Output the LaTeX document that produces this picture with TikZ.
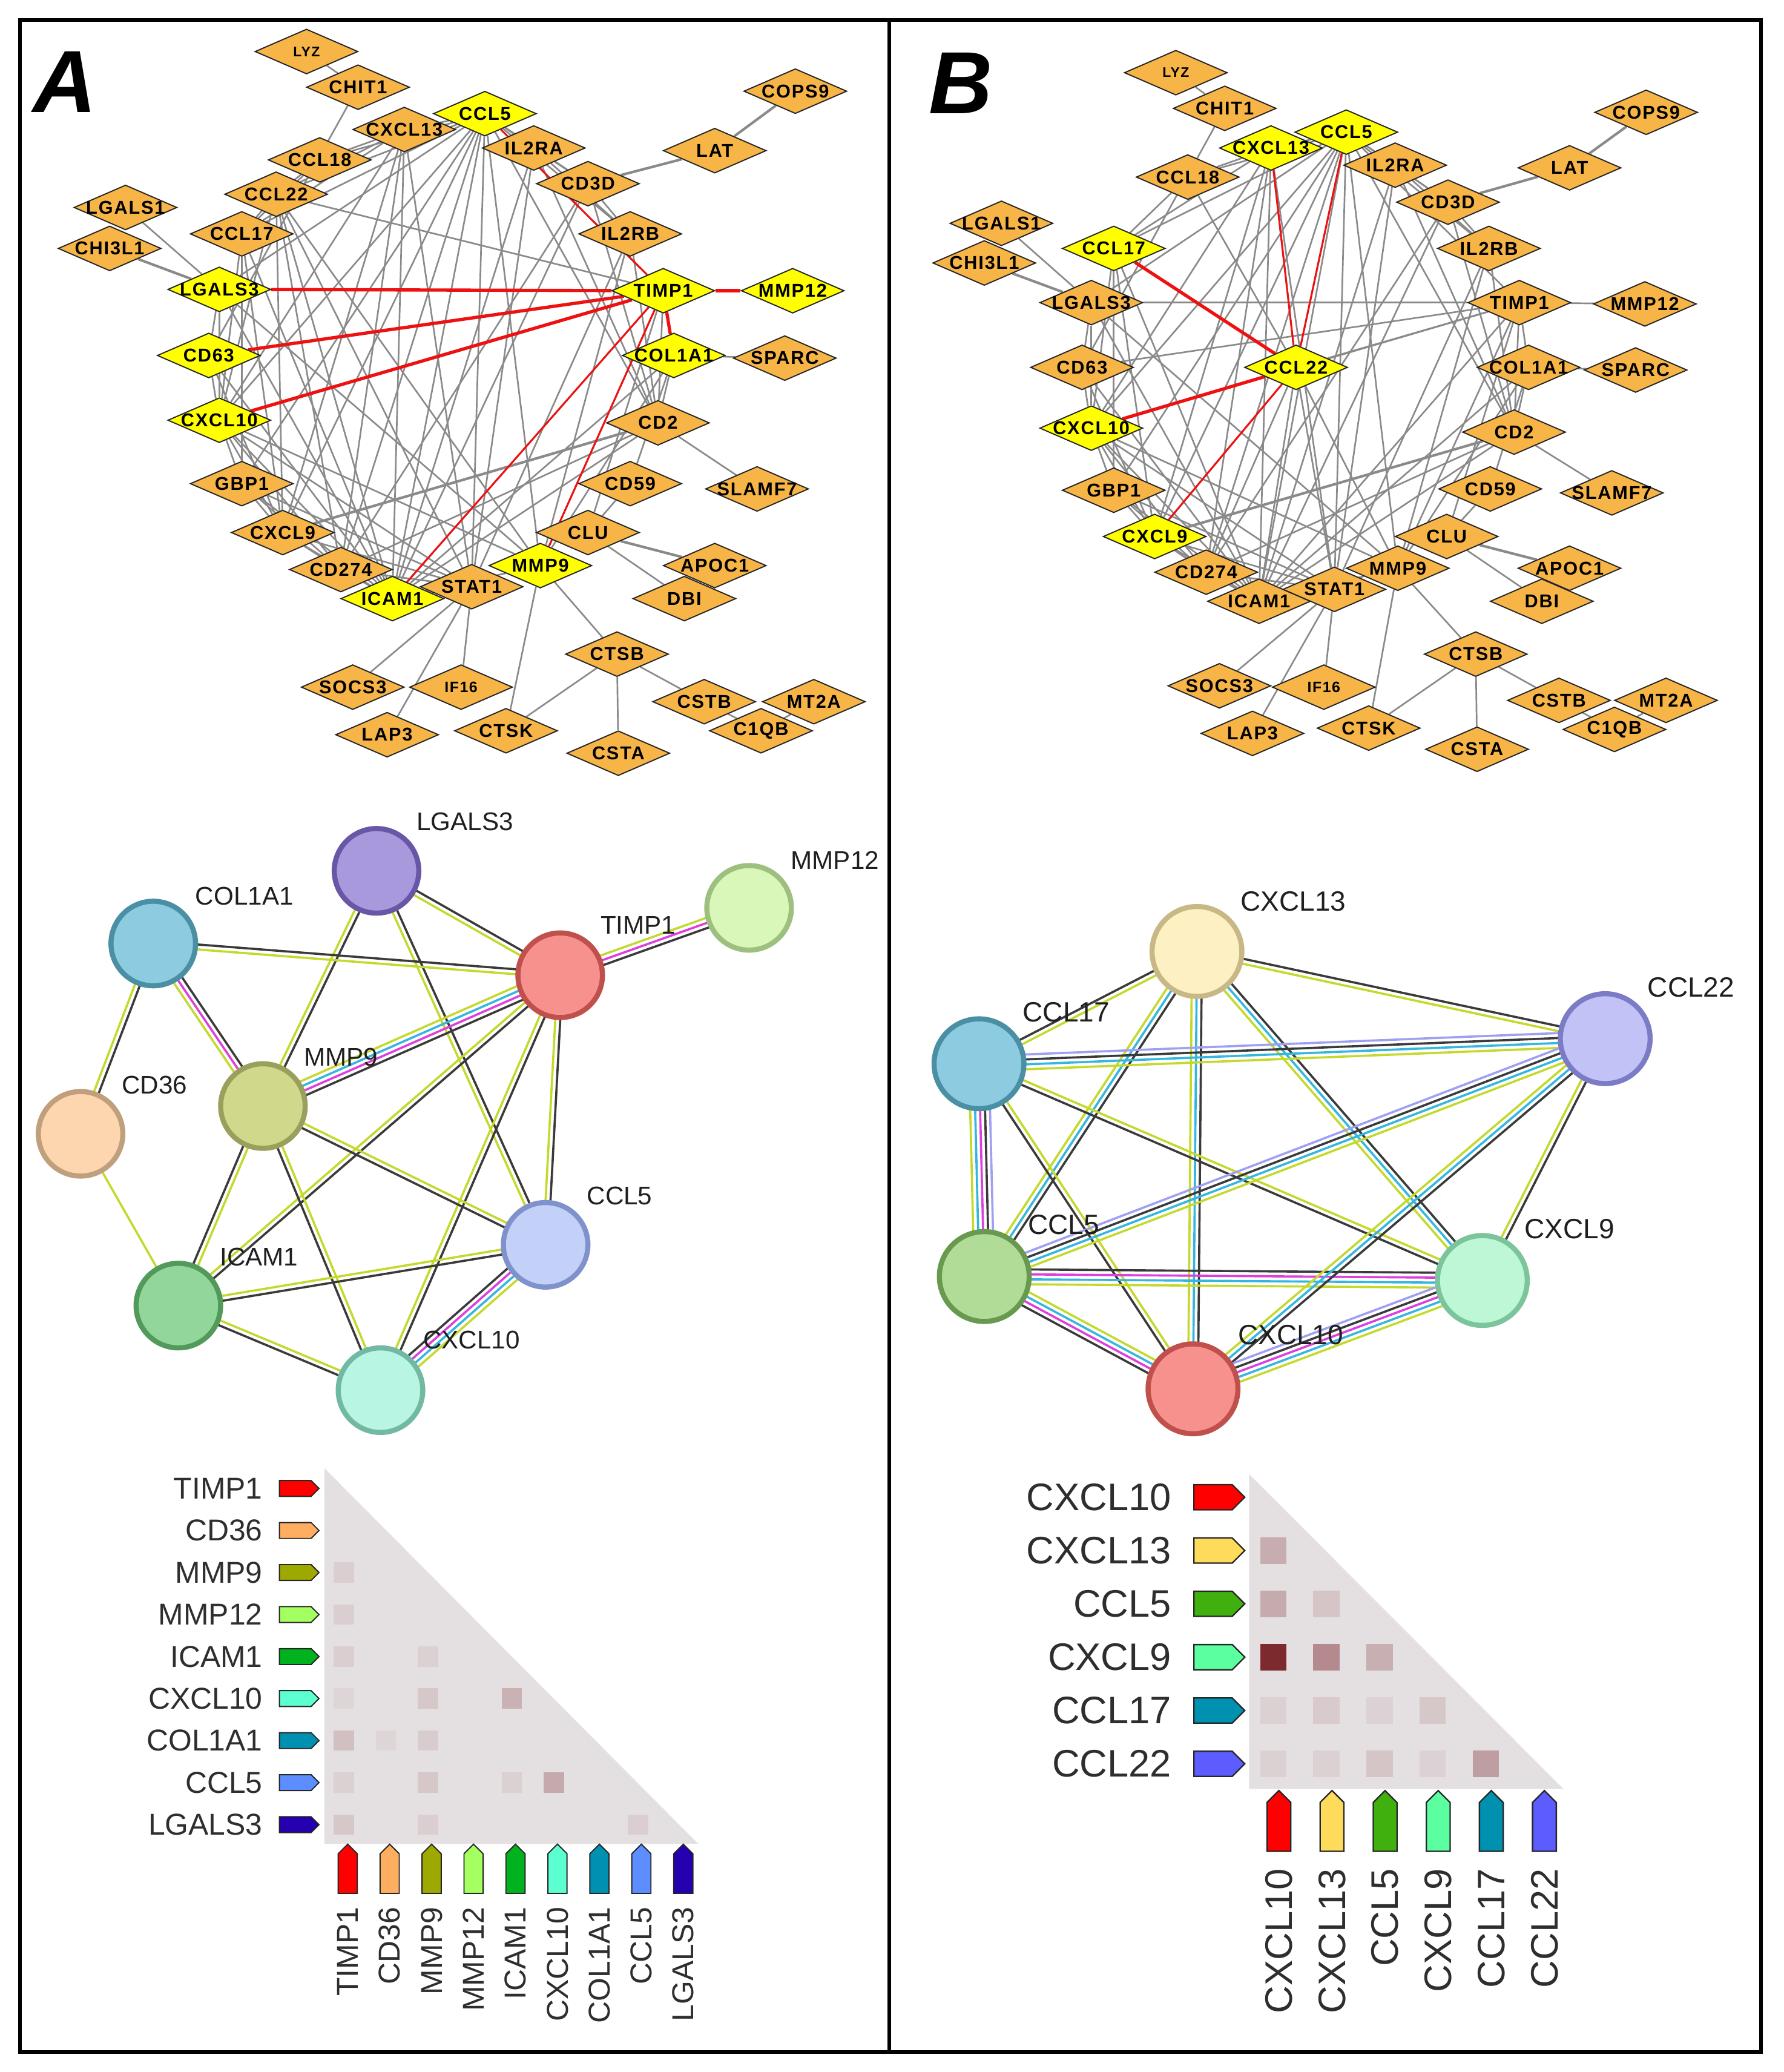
\documentclass[tikz,border=0pt]{standalone}
\usepackage{fontspec}
\setmainfont{Liberation Sans}
\newfontfamily\genefont[LetterSpace=6]{Liberation Sans}
\usetikzlibrary{shapes.geometric,shapes.symbols,calc,backgrounds}
\definecolor{geneorange}{HTML}{F7B548}
\definecolor{hubyellow}{HTML}{FFFF00}
\definecolor{genegray}{HTML}{8A8A8A}
\definecolor{hubred}{HTML}{EE1111}
\definecolor{strgreen}{HTML}{C4D92C}
\definecolor{strblack}{HTML}{3A3A3A}
\definecolor{strmag}{HTML}{DD3FDD}
\definecolor{strcyan}{HTML}{35B6DE}
\definecolor{strlav}{HTML}{A0A0F2}
\definecolor{legtext}{HTML}{2E2E2E}
\definecolor{matgray}{HTML}{E4E0E2}
\definecolor{sqdark}{HTML}{7D2A2F}
\definecolor{tagred}{HTML}{FF0000}
\definecolor{tagorange}{HTML}{FFAD60}
\definecolor{tagolive}{HTML}{9DA800}
\definecolor{taglime}{HTML}{A4FF60}
\definecolor{taggreen}{HTML}{00B31E}
\definecolor{tagaqua}{HTML}{5CFFCF}
\definecolor{tagteal}{HTML}{0090B0}
\definecolor{tagblue}{HTML}{5C8EFF}
\definecolor{tagindigo}{HTML}{2400B0}
\definecolor{tagyellow}{HTML}{FFDB5C}
\definecolor{tagleaf}{HTML}{3FB00E}
\definecolor{tagmint}{HTML}{5CFFA0}
\definecolor{tagviolet}{HTML}{5C5CFF}
\tikzstyle{gene}=[shape=diamond,draw=black!85,line width=0.5pt,fill=geneorange,minimum width=1.56cm,minimum height=0.68cm,inner sep=0pt,font=\genefont\fontsize{8}{8}\selectfont\bfseries]
\tikzstyle{smallgene}=[gene,font=\genefont\fontsize{6}{6}\selectfont\bfseries]
\tikzstyle{hub}=[gene,fill=hubyellow]
\tikzstyle{lightedge}=[genegray,line width=0.7pt]
\tikzstyle{heavyedge}=[genegray,line width=1.1pt]
\tikzstyle{hubedge}=[hubred,line width=1.4pt]
\tikzstyle{thinhub}=[hubred,line width=0.8pt]
\tikzstyle{strnode}=[circle,line width=2.2pt,minimum size=1.28cm,inner sep=0pt]
\tikzstyle{strlabel}=[font=\fontsize{11}{11}\selectfont,text=black!88,inner sep=0pt]
\tikzstyle{strline}=[line width=0.95pt]
\tikzstyle{rowlabA}=[anchor=east,font=\fontsize{13}{13}\selectfont,text=legtext,inner sep=0pt]
\tikzstyle{collabA}=[rowlabA,rotate=90]
\tikzstyle{rowtagA}=[signal,signal to=east,draw=black!85,line width=0.5pt,minimum width=0.6cm,minimum height=0.24cm,inner sep=0pt]
\tikzstyle{coltagA}=[signal,signal to=north,draw=black!85,line width=0.5pt,minimum width=0.29cm,minimum height=0.6cm,inner sep=0pt]
\tikzstyle{rowlabB}=[anchor=east,font=\fontsize{16.5}{16.5}\selectfont,text=legtext,inner sep=0pt]
\tikzstyle{collabB}=[rowlabB,rotate=90]
\tikzstyle{rowtagB}=[signal,signal to=east,draw=black!85,line width=0.6pt,minimum width=0.77cm,minimum height=0.38cm,inner sep=0pt]
\tikzstyle{coltagB}=[signal,signal to=north,draw=black!85,line width=0.6pt,minimum width=0.36cm,minimum height=0.74cm,inner sep=0pt]
\newcommand{\gn}[1]{\makebox[0pt]{#1}}
% gene pairs of the interaction network, shared by both panels
\newcommand{\geneedges}{LYZ/CHIT1,CHIT1/CD63,LGALS1/LGALS3,LGALS3/CD63,COL1A1/SPARC,TIMP1/MMP12,%
CD2/SLAMF7,CLU/DBI,CLU/CD59,MMP9/CTSB,MMP9/CTSK,CTSB/CTSK,CTSB/CSTA,CTSB/CSTB,CSTB/C1QB,MT2A/C1QB,%
STAT1/SOCS3,STAT1/IF16,STAT1/LAP3,%
CXCL13/CCL18,CXCL13/CCL22,CXCL13/CCL17,CXCL13/CCL5,CXCL13/CXCL10,CXCL13/CXCL9,CXCL13/ICAM1,CXCL13/CD274,CXCL13/STAT1,%
CCL5/CCL18,CCL5/CCL22,CCL5/CCL17,CCL5/CXCL10,CCL5/CXCL9,CCL5/GBP1,CCL5/CD274,CCL5/ICAM1,CCL5/STAT1,CCL5/MMP9,%
CCL5/IL2RA,CCL5/CD3D,CCL5/IL2RB,CCL5/CD2,CCL5/LGALS3,CCL5/TIMP1,%
CCL18/CCL22,CCL18/CCL17,CCL22/CCL17,CCL22/CXCL10,CCL22/CXCL9,CCL22/CD274,CCL22/ICAM1,CCL22/STAT1,CCL22/TIMP1,CCL22/MMP9,%
CCL17/CXCL10,CCL17/CXCL9,CCL17/ICAM1,CCL17/GBP1,%
IL2RA/CD3D,IL2RA/IL2RB,IL2RA/CD2,IL2RA/STAT1,IL2RA/ICAM1,CD3D/IL2RB,CD3D/CD2,CD3D/ICAM1,CD3D/CD274,%
IL2RB/CD2,IL2RB/STAT1,IL2RB/MMP9,CD2/ICAM1,CD2/CD274,%
TIMP1/CLU,TIMP1/CD2,TIMP1/LGALS3,TIMP1/CD63,TIMP1/CXCL10,TIMP1/ICAM1,TIMP1/MMP9,TIMP1/COL1A1,%
COL1A1/MMP9,COL1A1/CD2,COL1A1/CD59,COL1A1/ICAM1,%
CXCL10/GBP1,CXCL10/CXCL9,CXCL10/CD274,CXCL10/ICAM1,CXCL10/STAT1,CXCL10/MMP9,CXCL10/CD63,%
GBP1/CXCL9,GBP1/STAT1,GBP1/CD274,GBP1/ICAM1,CXCL9/CD274,CXCL9/ICAM1,CXCL9/STAT1,%
CD274/STAT1,CD274/ICAM1,ICAM1/STAT1,ICAM1/MMP9,LGALS3/MMP9,LGALS3/ICAM1,CD63/CXCL9,CD63/ICAM1,LGALS3/CXCL10}
\newcommand{\heavyedges}{COPS9/LAT,LAT/CD3D,CHI3L1/LGALS3,CLU/APOC1,CD2/CXCL9}
% parallel evidence lines between two STRING nodes
\newcommand{\sedge}[3]{%
  \foreach \ec/\eo in {#3}{%
    \pgfmathsetmacro\off{\eo*0.075}%
    \draw[strline,\ec] ($(#1)!\off cm!90:(#2)$) -- ($(#2)!\off cm!-90:(#1)$);}}

\begin{document}
\begin{tikzpicture}[x=0.02cm,y=-0.02cm]
\useasboundingbox (0,0) rectangle (1350,1568);

%frame
\draw[line width=1.5pt] (15,15) rectangle (1333,1553);
\draw[line width=1.5pt] (673,15) -- (673,1553);
\node[font=\fontsize{38}{38}\selectfont\bfseries\itshape] (letA) at (49,62) {A};
\node[font=\fontsize{38}{38}\selectfont\bfseries\itshape] (letB) at (727,63) {B};

%network A
\node[smallgene] (aLYZ) at (232,39) {\gn{LYZ}};
\node[gene] (aCHIT1) at (271,66) {\gn{CHIT1}};
\node[gene] (aCCL18) at (242,121) {\gn{CCL18}};
\node[gene] (aCXCL13) at (306,98) {\gn{CXCL13}};
\node[hub] (aCCL5) at (367,86) {\gn{CCL5}};
\node[gene] (aIL2RA) at (404,112) {\gn{IL2RA}};
\node[gene] (aCD3D) at (445,139) {\gn{CD3D}};
\node[gene] (aLAT) at (541,114) {\gn{LAT}};
\node[gene] (aCOPS9) at (602,69) {\gn{COPS9}};
\node[gene] (aCCL22) at (209,147) {\gn{CCL22}};
\node[gene] (aLGALS1) at (95,157) {\gn{LGALS1}};
\node[gene] (aCHI3L1) at (83,188) {\gn{CHI3L1}};
\node[gene] (aCCL17) at (183,177) {\gn{CCL17}};
\node[gene] (aIL2RB) at (477,177) {\gn{IL2RB}};
\node[hub] (aLGALS3) at (166,219) {\gn{LGALS3}};
\node[hub] (aTIMP1) at (502,220) {\gn{TIMP1}};
\node[hub] (aMMP12) at (600,220) {\gn{MMP12}};
\node[hub] (aCD63) at (158,269) {\gn{CD63}};
\node[hub] (aCOL1A1) at (510,269) {\gn{COL1A1}};
\node[gene] (aSPARC) at (594,271) {\gn{SPARC}};
\node[hub] (aCXCL10) at (166,318) {\gn{CXCL10}};
\node[gene] (aCD2) at (498,320) {\gn{CD2}};
\node[gene] (aGBP1) at (183,366) {\gn{GBP1}};
\node[gene] (aCD59) at (477,366) {\gn{CD59}};
\node[gene] (aSLAMF7) at (573,370) {\gn{SLAMF7}};
\node[gene] (aCXCL9) at (214,403) {\gn{CXCL9}};
\node[gene] (aCLU) at (445,403) {\gn{CLU}};
\node[gene] (aCD274) at (258,431) {\gn{CD274}};
\node[hub] (aICAM1) at (297,453) {\gn{ICAM1}};
\node[gene] (aSTAT1) at (357,444) {\gn{STAT1}};
\node[hub] (aMMP9) at (409,428) {\gn{MMP9}};
\node[gene] (aAPOC1) at (541,428) {\gn{APOC1}};
\node[gene] (aDBI) at (518,453) {\gn{DBI}};
\node[gene] (aCTSB) at (467,495) {\gn{CTSB}};
\node[gene] (aSOCS3) at (267,520) {\gn{SOCS3}};
\node[gene,font=\genefont\fontsize{6.5}{6.5}\selectfont\bfseries] (aIF16) at (349,520) {\gn{IF16}};
\node[gene] (aCSTB) at (533,531) {\gn{CSTB}};
\node[gene] (aMT2A) at (616,531) {\gn{MT2A}};
\node[gene] (aC1QB) at (576,553) {\gn{C1QB}};
\node[gene] (aLAP3) at (293,556) {\gn{LAP3}};
\node[gene] (aCTSK) at (383,553) {\gn{CTSK}};
\node[gene] (aCSTA) at (468,570) {\gn{CSTA}};

%network B
\node[smallgene] (bLYZ) at (890,55) {\gn{LYZ}};
\node[gene] (bCHIT1) at (927,82) {\gn{CHIT1}};
\node[gene] (bCCL18) at (899,134) {\gn{CCL18}};
\node[hub] (bCXCL13) at (962,112) {\gn{CXCL13}};
\node[hub] (bCCL5) at (1019,100) {\gn{CCL5}};
\node[gene] (bIL2RA) at (1056,125) {\gn{IL2RA}};
\node[gene] (bCD3D) at (1096,153) {\gn{CD3D}};
\node[gene] (bLAT) at (1188,127) {\gn{LAT}};
\node[gene] (bCOPS9) at (1246,85) {\gn{COPS9}};
\node[gene] (bLGALS1) at (758,169) {\gn{LGALS1}};
\node[gene] (bCHI3L1) at (745,199) {\gn{CHI3L1}};
\node[hub] (bCCL17) at (843,188) {\gn{CCL17}};
\node[gene] (bIL2RB) at (1127,188) {\gn{IL2RB}};
\node[gene] (bLGALS3) at (826,229) {\gn{LGALS3}};
\node[gene] (bTIMP1) at (1150,229) {\gn{TIMP1}};
\node[gene] (bMMP12) at (1245,230) {\gn{MMP12}};
\node[gene] (bCD63) at (819,278) {\gn{CD63}};
\node[hub] (bCCL22) at (981,278) {\gn{CCL22}};
\node[gene] (bCOL1A1) at (1157,278) {\gn{COL1A1}};
\node[gene] (bSPARC) at (1238,280) {\gn{SPARC}};
\node[hub] (bCXCL10) at (826,324) {\gn{CXCL10}};
\node[gene] (bCD2) at (1146,327) {\gn{CD2}};
\node[gene] (bGBP1) at (843,371) {\gn{GBP1}};
\node[gene] (bCD59) at (1128,370) {\gn{CD59}};
\node[gene] (bSLAMF7) at (1220,373) {\gn{SLAMF7}};
\node[hub] (bCXCL9) at (874,406) {\gn{CXCL9}};
\node[gene] (bCLU) at (1095,406) {\gn{CLU}};
\node[gene] (bCD274) at (913,433) {\gn{CD274}};
\node[gene] (bICAM1) at (953,455) {\gn{ICAM1}};
\node[gene] (bSTAT1) at (1010,446) {\gn{STAT1}};
\node[gene] (bMMP9) at (1058,430) {\gn{MMP9}};
\node[gene] (bAPOC1) at (1188,430) {\gn{APOC1}};
\node[gene] (bDBI) at (1167,455) {\gn{DBI}};
\node[gene] (bCTSB) at (1117,495) {\gn{CTSB}};
\node[gene] (bSOCS3) at (923,519) {\gn{SOCS3}};
\node[gene,font=\genefont\fontsize{6.5}{6.5}\selectfont\bfseries] (bIF16) at (1002,520) {\gn{IF16}};
\node[gene] (bCSTB) at (1180,530) {\gn{CSTB}};
\node[gene] (bMT2A) at (1261,530) {\gn{MT2A}};
\node[gene] (bC1QB) at (1222,552) {\gn{C1QB}};
\node[gene] (bLAP3) at (948,555) {\gn{LAP3}};
\node[gene] (bCTSK) at (1036,551) {\gn{CTSK}};
\node[gene] (bCSTA) at (1118,567) {\gn{CSTA}};

\begin{scope}[on background layer]
\foreach \u/\v in \geneedges {\path (a\u) edge[lightedge] (a\v) (b\u) edge[lightedge] (b\v);}
\foreach \u/\v in \heavyedges {\path (a\u) edge[heavyedge] (a\v) (b\u) edge[heavyedge] (b\v);}
\path
(aTIMP1) edge[hubedge] (aLGALS3)
(aTIMP1) edge[hubedge] (aCD63)
(aTIMP1) edge[hubedge] (aCXCL10)
(aTIMP1) edge[hubedge] (aMMP12)
(aTIMP1) edge[hubedge] (aCOL1A1)
(aTIMP1) edge[thinhub] (aICAM1)
(aTIMP1) edge[thinhub] (aMMP9)
(aTIMP1) edge[thinhub] (aCCL5)
(bCCL22) edge[hubedge] (bCCL17)
(bCCL22) edge[hubedge] (bCXCL10)
(bCCL22) edge[thinhub] (bCXCL13)
(bCCL22) edge[thinhub] (bCCL5)
(bCCL22) edge[thinhub] (bCXCL9);
\end{scope}

%STRING A
\node[strnode,fill={rgb,255:red,168;green,152;blue,220},draw={rgb,255:red,104;green,86;blue,166}] (saLGALS3) at (285,659) {};
\node[strnode,fill={rgb,255:red,216;green,247;blue,184},draw={rgb,255:red,157;green,192;blue,126}] (saMMP12) at (567,687) {};
\node[strnode,fill={rgb,255:red,140;green,203;blue,224},draw={rgb,255:red,75;green,143;blue,165}] (saCOL1A1) at (116,714) {};
\node[strnode,fill={rgb,255:red,246;green,145;blue,141},draw={rgb,255:red,192;green,80;blue,76}] (saTIMP1) at (424,738) {};
\node[strnode,fill={rgb,255:red,253;green,214;blue,176},draw={rgb,255:red,192;green,160;blue,124}] (saCD36) at (61,858) {};
\node[strnode,fill={rgb,255:red,208;green,216;blue,140},draw={rgb,255:red,154;green,160;blue,92}] (saMMP9) at (199,837) {};
\node[strnode,fill={rgb,255:red,195;green,208;blue,248},draw={rgb,255:red,127;green,146;blue,204}] (saCCL5) at (413,942) {};
\node[strnode,fill={rgb,255:red,146;green,214;blue,155},draw={rgb,255:red,82;green,154;blue,90}] (saICAM1) at (135,988) {};
\node[strnode,fill={rgb,255:red,184;green,245;blue,226},draw={rgb,255:red,114;green,185;blue,164}] (saCXCL10) at (288,1052) {};
\node[strlabel] (laLGALS3) at (352,622) {LGALS3};
\node[strlabel] (laMMP12) at (632,651) {MMP12};
\node[strlabel] (laCOL1A1) at (185,678) {COL1A1};
\node[strlabel] (laTIMP1) at (483,700) {TIMP1};
\node[strlabel] (laCD36) at (117,821) {CD36};
\node[strlabel] (laMMP9) at (258,800) {MMP9};
\node[strlabel] (laCCL5) at (469,905) {CCL5};
\node[strlabel] (laICAM1) at (196,951) {ICAM1};
\node[strlabel] (laCXCL10) at (357,1014) {CXCL10};
\begin{scope}[on background layer]
\sedge{saLGALS3}{saTIMP1}{strgreen/-0.5,strblack/0.5}
\sedge{saLGALS3}{saMMP9}{strgreen/-0.5,strblack/0.5}
\sedge{saLGALS3}{saCCL5}{strgreen/-0.5,strblack/0.5}
\sedge{saCOL1A1}{saTIMP1}{strgreen/-0.5,strblack/0.5}
\sedge{saCOL1A1}{saMMP9}{strgreen/-1,strmag/0,strblack/1}
\sedge{saCOL1A1}{saCD36}{strgreen/-0.5,strblack/0.5}
\sedge{saTIMP1}{saMMP12}{strblack/-1,strmag/0,strgreen/1}
\sedge{saTIMP1}{saMMP9}{strgreen/-1.5,strcyan/-0.5,strmag/0.5,strblack/1.5}
\sedge{saTIMP1}{saICAM1}{strgreen/-0.5,strblack/0.5}
\sedge{saTIMP1}{saCXCL10}{strgreen/-0.5,strblack/0.5}
\sedge{saTIMP1}{saCCL5}{strgreen/-0.5,strblack/0.5}
\sedge{saMMP9}{saCCL5}{strblack/-0.5,strgreen/0.5}
\sedge{saMMP9}{saICAM1}{strblack/-0.5,strgreen/0.5}
\sedge{saMMP9}{saCXCL10}{strblack/-0.5,strgreen/0.5}
\sedge{saCD36}{saICAM1}{strgreen/0}
\sedge{saICAM1}{saCCL5}{strblack/-0.5,strgreen/0.5}
\sedge{saICAM1}{saCXCL10}{strblack/-0.5,strgreen/0.5}
\sedge{saCCL5}{saCXCL10}{strblack/-1.5,strmag/-0.5,strcyan/0.5,strgreen/1.5}
\end{scope}

%STRING B
\node[strnode,minimum size=1.36cm,fill={rgb,255:red,253;green,241;blue,196},draw={rgb,255:red,200;green,184;blue,134}] (sbCXCL13) at (906,720) {};
\node[strnode,minimum size=1.36cm,fill={rgb,255:red,194;green,194;blue,247},draw={rgb,255:red,124;green,124;blue,198}] (sbCCL22) at (1215,786) {};
\node[strnode,minimum size=1.36cm,fill={rgb,255:red,140;green,203;blue,224},draw={rgb,255:red,75;green,143;blue,165}] (sbCCL17) at (741,805) {};
\node[strnode,minimum size=1.36cm,fill={rgb,255:red,176;green,220;blue,151},draw={rgb,255:red,105;green,153;blue,78}] (sbCCL5) at (745,966) {};
\node[strnode,minimum size=1.36cm,fill={rgb,255:red,190;green,247;blue,214},draw={rgb,255:red,124;green,196;blue,156}] (sbCXCL9) at (1122,969) {};
\node[strnode,minimum size=1.36cm,fill={rgb,255:red,246;green,145;blue,141},draw={rgb,255:red,192;green,80;blue,76}] (sbCXCL10) at (903,1051) {};
\node[strlabel,font=\fontsize{12}{12}\selectfont] (lbCXCL13) at (979,682) {CXCL13};
\node[strlabel,font=\fontsize{12}{12}\selectfont] (lbCCL22) at (1280,747) {CCL22};
\node[strlabel,font=\fontsize{12}{12}\selectfont] (lbCCL17) at (807,766) {CCL17};
\node[strlabel,font=\fontsize{12}{12}\selectfont] (lbCCL5) at (805,927) {CCL5};
\node[strlabel,font=\fontsize{12}{12}\selectfont] (lbCXCL9) at (1188,930) {CXCL9};
\node[strlabel,font=\fontsize{12}{12}\selectfont] (lbCXCL10) at (977,1010) {CXCL10};
\begin{scope}[on background layer]
\sedge{sbCXCL13}{sbCCL22}{strgreen/-0.5,strblack/0.5}
\sedge{sbCXCL13}{sbCCL17}{strblack/-0.5,strgreen/0.5}
\sedge{sbCXCL13}{sbCCL5}{strgreen/-1,strcyan/0,strblack/1}
\sedge{sbCXCL13}{sbCXCL10}{strgreen/-1,strcyan/0,strblack/1}
\sedge{sbCXCL13}{sbCXCL9}{strgreen/-1,strcyan/0,strblack/1}
\sedge{sbCCL17}{sbCCL22}{strgreen/-1.5,strcyan/-0.5,strblack/0.5,strlav/1.5}
\sedge{sbCCL17}{sbCCL5}{strgreen/-2,strcyan/-1,strmag/0,strblack/1,strlav/2}
\sedge{sbCCL17}{sbCXCL9}{strblack/-0.5,strgreen/0.5}
\sedge{sbCCL17}{sbCXCL10}{strblack/-0.5,strgreen/0.5}
\sedge{sbCCL5}{sbCCL22}{strgreen/-1.5,strcyan/-0.5,strblack/0.5,strlav/1.5}
\sedge{sbCCL5}{sbCXCL9}{strgreen/-1.5,strcyan/-0.5,strmag/0.5,strblack/1.5}
\sedge{sbCCL5}{sbCXCL10}{strblack/-1.5,strmag/-0.5,strcyan/0.5,strgreen/1.5}
\sedge{sbCCL22}{sbCXCL10}{strgreen/-1,strcyan/0,strblack/1}
\sedge{sbCCL22}{sbCXCL9}{strgreen/-0.5,strblack/0.5}
\sedge{sbCXCL9}{sbCXCL10}{strlav/-2,strblack/-1,strmag/0,strcyan/1,strgreen/2}
\end{scope}

%matrix A
\fill[matgray] (245.5,1111) -- (245.5,1395.3) -- (528.5,1395.3) -- cycle;
\foreach \r/\k/\p in {3/1/10,4/1/10,5/1/10,5/3/9,6/1/6,6/3/14,6/5/26,7/1/18,7/2/6,7/3/11,8/1/9,8/3/14,8/5/9,8/6/30,9/1/14,9/3/10,9/8/10}
  \fill[sqdark!\p!matgray] ({260.3+31.8*(\k-1)-7.7},{1126.4+31.8*(\r-1)-7.7}) rectangle +(15.4,15.4);
\foreach \g/\tc [count=\i] in {TIMP1/tagred,CD36/tagorange,MMP9/tagolive,MMP12/taglime,ICAM1/taggreen,CXCL10/tagaqua,COL1A1/tagteal,CCL5/tagblue,LGALS3/tagindigo}{
  \node[rowlabA] (raLab\i) at (199,{1126.4+31.8*(\i-1)}) {\g};
  \node[rowtagA,fill=\tc] (raTag\i) at (223.5,{1126.4+31.8*(\i-1)}) {};
  \node[coltagA,fill=\tc] (caTag\i) at ({263.2+31.75*(\i-1)},1417.8) {};
  \node[collabA] (caLab\i) at ({263.2+31.75*(\i-1)},1443) {\g};
}

%matrix B
\fill[matgray] (945.5,1115.5) -- (945.5,1353.8) -- (1183.4,1353.8) -- cycle;
\foreach \r/\k/\p in {2/1/28,3/1/29,3/2/15,4/1/100,4/2/47,4/3/27,5/1/9,5/2/12,5/3/8,5/4/14,6/1/9,6/2/9,6/3/15,6/4/8,6/5/36}
  \fill[sqdark!\p!matgray] ({963.8+40.2*(\k-1)-10},{1133+40.35*(\r-1)-10}) rectangle +(20,20);
\foreach \g/\tc [count=\i] in {CXCL10/tagred,CXCL13/tagyellow,CCL5/tagleaf,CXCL9/tagmint,CCL17/tagteal,CCL22/tagviolet}{
  \node[rowlabB] (rbLab\i) at (887,{1133+40.35*(\i-1)}) {\g};
  \node[rowtagB,fill=\tc] (rbTag\i) at (918.2,{1133+40.35*(\i-1)}) {};
  \node[coltagB,fill=\tc] (cbTag\i) at ({968+40.2*(\i-1)},1382.5) {};
  \node[collabB] (cbLab\i) at ({968+40.2*(\i-1)},1413.7) {\g};
}
\end{tikzpicture}
\end{document}
